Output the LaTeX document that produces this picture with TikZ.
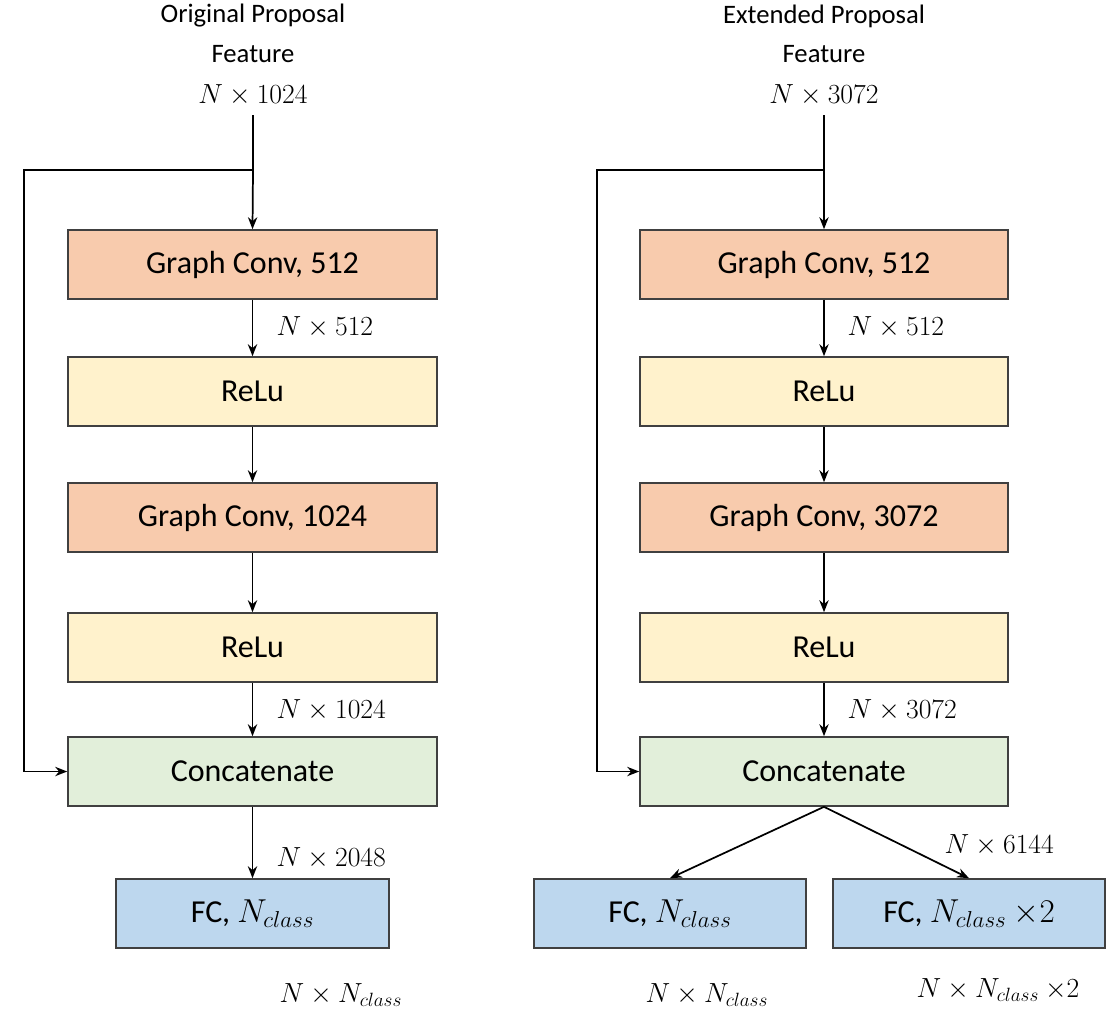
\documentclass[tikz,border=0pt]{standalone}
\usepackage{fontspec}
\setmainfont{Carlito}
\usetikzlibrary{arrows.meta}
\definecolor{cOr}{HTML}{F8CBAD}
\definecolor{cYe}{HTML}{FFF2CC}
\definecolor{cGr}{HTML}{E2EFDA}
\definecolor{cBl}{HTML}{BDD7EE}
\definecolor{cBd}{HTML}{404040}
\begin{document}
\begin{tikzpicture}[x=0.75pt,y=-0.75pt,
  box/.style={draw=cBd,line width=1.2pt,font=\fontsize{24}{28}\selectfont},
  lab/.style={font=\fontsize{20}{24}\selectfont,anchor=west},
  ttl/.style={font=\fontsize{20}{24}\selectfont},
  ar/.style={-{Stealth[length=9pt,width=7pt]},line width=1.3pt}]
\useasboundingbox (0,0) rectangle (1112,1018);
% left column
\node[ttl] (lt1) at (253,16) {Original Proposal};
\node[ttl] (lt2) at (253,54) {Feature};
\node[ttl] (lt3) at (253,95) {$N\times1024$};
\node[box,fill=cOr,minimum width=369pt*0.75,minimum height=69pt*0.75] (l1) at (252.5,264.5) {Graph Conv, 512};
\node[box,fill=cYe,minimum width=369pt*0.75,minimum height=69pt*0.75] (l2) at (252.5,391.5) {ReLu};
\node[box,fill=cOr,minimum width=369pt*0.75,minimum height=69pt*0.75] (l3) at (252.5,517.5) {Graph Conv, 1024};
\node[box,fill=cYe,minimum width=369pt*0.75,minimum height=69pt*0.75] (l4) at (252.5,647.5) {ReLu};
\node[box,fill=cGr,minimum width=369pt*0.75,minimum height=69pt*0.75] (l5) at (252.5,771.5) {Concatenate};
\node[box,fill=cBl,minimum width=273pt*0.75,minimum height=69pt*0.75] (l6) at (252.5,913.5) {FC, $N_{class}$};
\coordinate (lb) at (253,170);
\draw[line width=1.3pt] (253,115) -- (lb);
\draw[ar] (lb) -- (l1.north);
\draw[ar] (lb) -- (24,170) -- (24,771.5) -- (l5.west);
\draw[ar] (l1) -- (l2); \draw[ar] (l2) -- (l3); \draw[ar] (l3) -- (l4);
\draw[ar] (l4) -- (l5); \draw[ar] (l5) -- (l6);
\node[lab] (la1) at (272,327) {$N\times512$};
\node[lab] (la2) at (272,710) {$N\times1024$};
\node[lab] (la3) at (272,858) {$N\times2048$};
\node[lab] (la4) at (275,995) {$N\times N_{class}$};
% right column
\node[ttl] (rt1) at (824,16) {Extended Proposal};
\node[ttl] (rt2) at (824,54) {Feature};
\node[ttl] (rt3) at (824,95) {$N\times3072$};
\node[box,fill=cOr,minimum width=368pt*0.75,minimum height=69pt*0.75] (r1) at (824,264.5) {Graph Conv, 512};
\node[box,fill=cYe,minimum width=368pt*0.75,minimum height=69pt*0.75] (r2) at (824,391.5) {ReLu};
\node[box,fill=cOr,minimum width=368pt*0.75,minimum height=69pt*0.75] (r3) at (824,517.5) {Graph Conv, 3072};
\node[box,fill=cYe,minimum width=368pt*0.75,minimum height=69pt*0.75] (r4) at (824,647.5) {ReLu};
\node[box,fill=cGr,minimum width=368pt*0.75,minimum height=69pt*0.75] (r5) at (824,771.5) {Concatenate};
\node[box,fill=cBl,minimum width=272pt*0.75,minimum height=69pt*0.75] (r6) at (670,913.5) {FC, $N_{class}$};
\node[box,fill=cBl,minimum width=272pt*0.75,minimum height=69pt*0.75] (r7) at (969,913.5) {FC, $N_{class}$ $\times2$};
\coordinate (rb) at (824,170);
\draw[line width=1.3pt] (824,115) -- (rb);
\draw[ar] (rb) -- (r1.north);
\draw[ar] (rb) -- (597,170) -- (597,771.5) -- (r5.west);
\draw[ar] (r1) -- (r2); \draw[ar] (r2) -- (r3); \draw[ar] (r3) -- (r4);
\draw[ar] (r4) -- (r5);
\draw[ar] (r5.south) -- (r6.north);
\draw[ar] (r5.south) -- (r7.north);
\node[lab] (ra1) at (843,327) {$N\times512$};
\node[lab] (ra2) at (843,710) {$N\times3072$};
\node[lab] (ra3) at (940,845) {$N\times6144$};
\node[lab] (ra4) at (641,995) {$N\times N_{class}$};
\node[lab] (ra5) at (912,990) {$N\times N_{class}$ $\times2$};
\end{tikzpicture}
\end{document}
